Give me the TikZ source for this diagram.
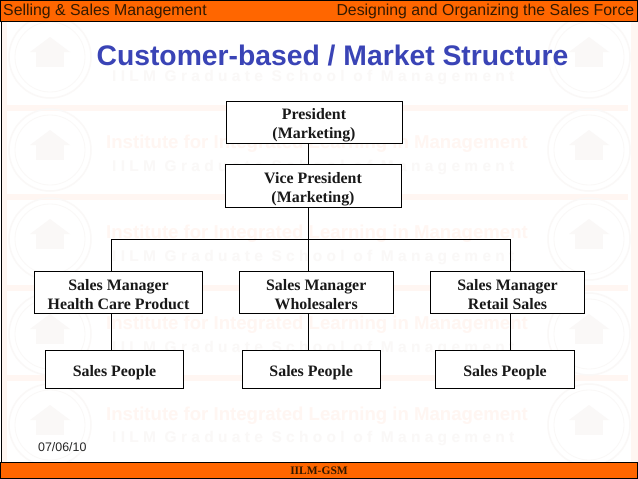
\documentclass[tikz,border=0pt]{standalone}
\usepackage{fontspec}
\setmainfont{Liberation Serif}
\newfontfamily\headfont{Liberation Sans}
\usetikzlibrary{positioning}
\definecolor{barorange}{RGB}{255,102,0}
\definecolor{titleblue}{RGB}{58,68,182}
\definecolor{markpink}{RGB}{255,246,242}
\definecolor{markgrey}{RGB}{250,248,247}
\tikzset{
    orgbox/.style={draw=black, fill=white, line width=0.9pt, align=center, inner sep=0pt,
        font=\fontsize{15.9}{19}\selectfont\bfseries, text=black!90},
    oneline/.style={orgbox, execute at begin node={\rule{0pt}{17.5pt}}},
    twoline/.style={orgbox, execute at begin node={\rule{0pt}{36pt}}},
    headtext/.style={font=\headfont\fontsize{15.85}{18}\selectfont, text=black!80!orange, inner sep=0pt},
    bigmark/.style={font=\headfont\bfseries\fontsize{18.6}{20}\selectfont, text=markpink, inner sep=0pt},
    smallmark/.style={font=\headfont\bfseries\fontsize{15.5}{16}\selectfont, text=markgrey, inner sep=0pt}
}

\begin{document}
\begin{tikzpicture}[x=1pt, y=-1pt]

    \useasboundingbox (0, 0) rectangle (638, 479);
    \fill[white] (0, 0) rectangle (638, 479);

    % watermark
    \foreach \ya in {108, 197, 288, 378} {
        \fill[markpink] (5, \ya - 3) rectangle (628, \ya + 3);
    }
    \fill[markpink] (2, 21) rectangle (7, 462);
    \fill[markpink] (631, 21) rectangle (638, 462);
    \foreach \ya in {57, 150, 239, 334, 425} {
        \foreach \xa in {50, 589} {
            \draw[markgrey, line width=1.5pt] (\xa, \ya) circle (41);
            \draw[markgrey, line width=0.8pt] (\xa, \ya) circle (35);
            \fill[markgrey] (\xa - 14, \ya + 10) rectangle (\xa + 14, \ya - 5);
            \fill[markgrey] (\xa - 20, \ya - 5) -- (\xa, \ya - 20) -- (\xa + 20, \ya - 5) -- cycle;
        }
    }
    \foreach \ya in {144, 234, 325, 416} {
        \node[bigmark, anchor=west] at (106, \ya) {Institute for Integrated Learning in Management};
    }
    \foreach \ya in {78, 168, 258, 349, 439} {
        \node[smallmark, anchor=west] at (112, \ya) {I I L M\ \ G r a d u a t e\ \ S c h o o l\ \ o f\ \ M a n a g e m e n t};
    }

    % header and footer
    \draw[black, fill=barorange, line width=0.8pt] (0.5, 0.5) rectangle (637.5, 21.5);
    \draw[black, fill=barorange, line width=0.8pt] (0.5, 462.5) rectangle (637.5, 478.5);
    \draw[black, line width=0.8pt] (1, 21) -- (1, 462);
    \node[headtext, anchor=west] (leftHead) at (3, 11.5) {Selling \& Sales Management};
    \node[headtext, anchor=east] (rightHead) at (634.5, 11.5) {Designing and Organizing the Sales Force};
    \node[font=\fontsize{11.5}{12}\selectfont\bfseries, text=black!80!orange, inner sep=0pt] (footer) at (319, 471) {IILM-GSM};
    \node[font=\headfont\fontsize{12.4}{13}\selectfont, text=black!85, inner sep=0pt, anchor=west] (date) at (38, 447) {07/06/10};

    \node[font=\headfont\bfseries\fontsize{28.3}{30}\selectfont, text=titleblue, inner sep=0pt] (title) at (332.5, 55.5) {Customer-based / Market Structure};

    % boxes
    \node[twoline, minimum width=176pt, minimum height=42pt] (president) at (314, 122) {President\\(Marketing)};
    \node[twoline, minimum width=176pt, minimum height=42.5pt] (vicePres) at (313, 186) {Vice President\\(Marketing)};

    \node[twoline, minimum width=168pt, minimum height=42pt] (managerHealth) at (118.5, 292) {Sales Manager\\Health Care Product};
    \node[twoline, minimum width=153.5pt, minimum height=42pt] (managerWhole) at (316.2, 292) {Sales Manager\\Wholesalers};
    \node[twoline, minimum width=154.4pt, minimum height=42pt] (managerRetail) at (507.5, 292) {Sales Manager\\Retail Sales};

    \node[oneline, minimum width=138pt, minimum height=38pt] (peopleHealth) at (114.5, 369) {Sales People};
    \node[oneline, minimum width=138.4pt, minimum height=38pt] (peopleWhole) at (311.2, 369) {Sales People};
    \node[oneline, minimum width=139.4pt, minimum height=38pt] (peopleRetail) at (505, 369) {Sales People};

    % connectors
    \coordinate (busLeft) at (111.5, 239);
    \coordinate (busMid) at (308.5, 239);
    \coordinate (busRight) at (510.3, 239);

    \draw[line width=0.9pt] (president.south -| busMid) -- (vicePres.north -| busMid);
    \draw[line width=0.9pt] (vicePres.south -| busMid) -- (busMid);
    \draw[line width=0.9pt] (managerHealth.north -| busLeft) -- (busLeft) -- (busRight) -- (managerRetail.north -| busRight);
    \draw[line width=0.9pt] (busMid) -- (managerWhole.north -| busMid);
    \draw[line width=0.9pt] (managerHealth.south -| busLeft) -- (peopleHealth.north -| busLeft);
    \draw[line width=0.9pt] (managerWhole.south -| busMid) -- (peopleWhole.north -| busMid);
    \draw[line width=0.9pt] (managerRetail.south -| busRight) -- (peopleRetail.north -| busRight);

\end{tikzpicture}
\end{document}
